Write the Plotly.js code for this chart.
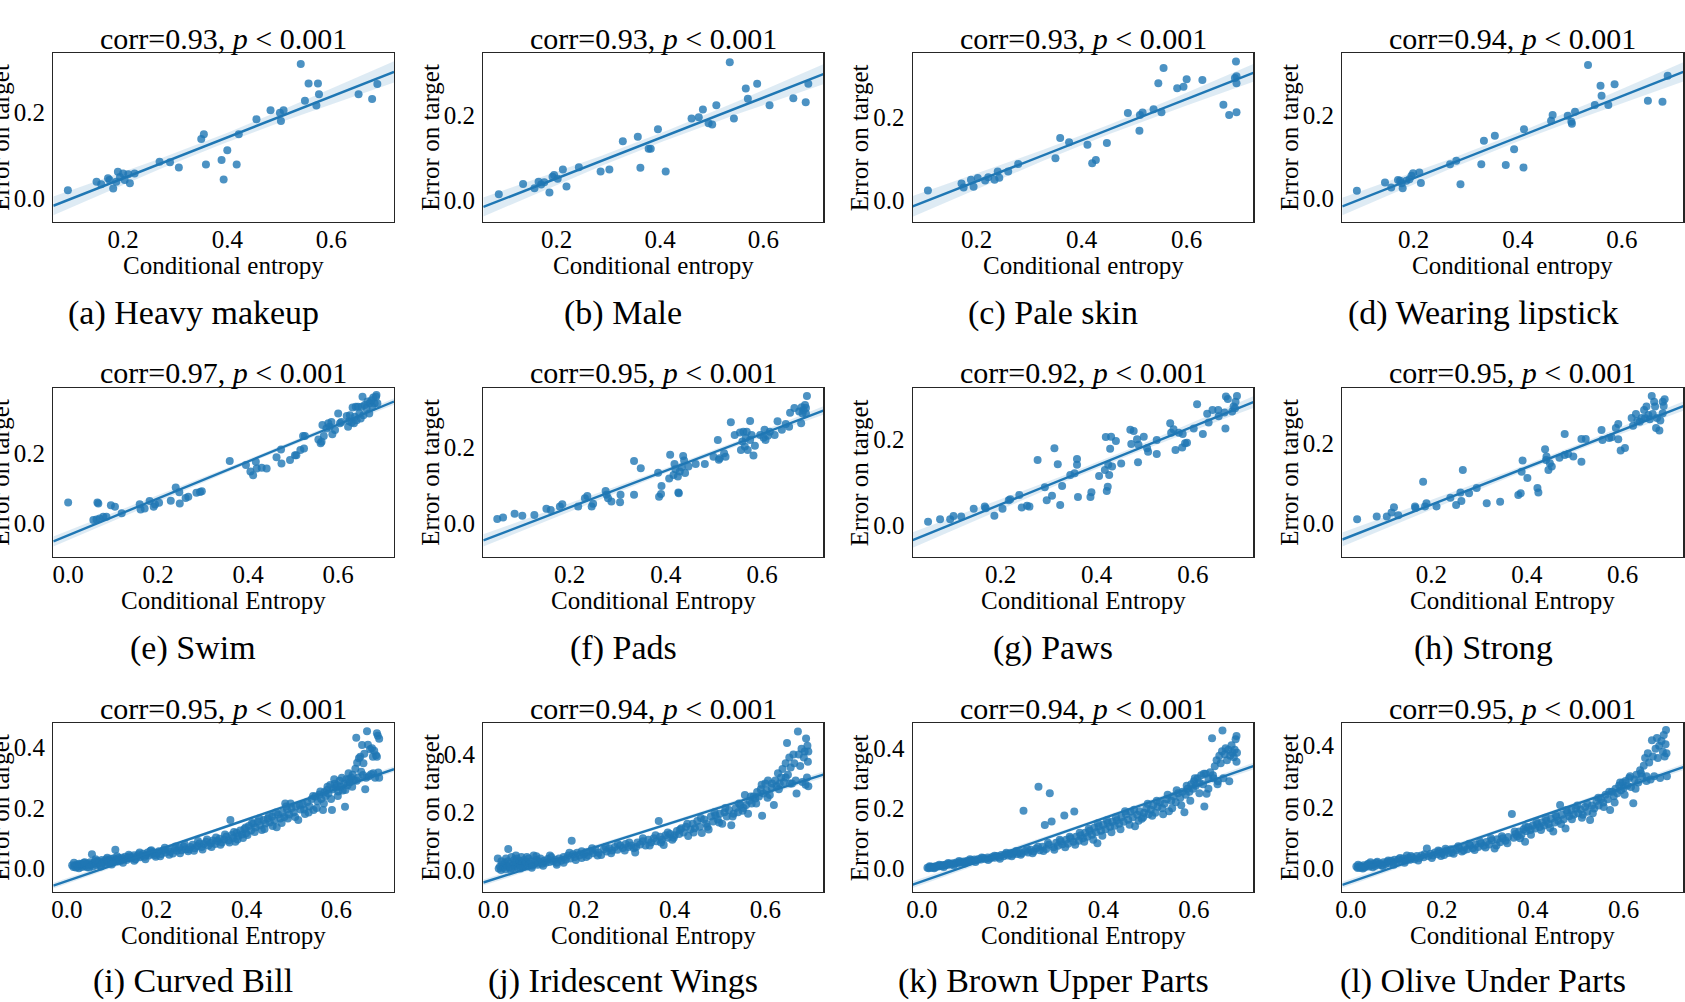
<!DOCTYPE html>
<html><head><meta charset="utf-8">
<script src="https://cdn.plot.ly/plotly-3.0.1.min.js"></script>
<style>html,body{margin:0;padding:0;background:#fff}#chart{width:1685px;height:1002px}</style>
</head><body><div id="chart"></div>
<script>
// ---------- data ----------
const corrValues = ["0.93","0.93","0.93","0.94","0.97","0.95","0.92","0.95","0.95","0.94","0.94","0.95"];
const captions = ["(a) Heavy makeup","(b) Male","(c) Pale skin","(d) Wearing lipstick",
  "(e) Swim","(f) Pads","(g) Paws","(h) Strong",
  "(i) Curved Bill","(j) Iridescent Wings","(k) Brown Upper Parts","(l) Olive Under Parts"];
const xTitles = ["Conditional entropy","Conditional entropy","Conditional entropy","Conditional entropy",
  "Conditional Entropy","Conditional Entropy","Conditional Entropy","Conditional Entropy",
  "Conditional Entropy","Conditional Entropy","Conditional Entropy","Conditional Entropy"];
const yTitle = "Error on target";

const heavyMakeup = [[0.094,0.019],[0.149,0.039],[0.158,0.033],[0.171,0.047],[0.174,0.043],[0.181,0.023],[0.187,0.039],[0.190,0.062],[0.194,0.050],[0.200,0.058],[0.203,0.043],[0.210,0.056],[0.213,0.035],[0.222,0.058],[0.270,0.085],[0.290,0.084],[0.307,0.072],[0.350,0.138],[0.355,0.149],[0.359,0.079],[0.389,0.089],[0.393,0.044],[0.400,0.112],[0.418,0.079],[0.422,0.149],[0.456,0.184],[0.483,0.205],[0.501,0.199],[0.503,0.180],[0.508,0.205],[0.541,0.312],[0.549,0.227],[0.556,0.267],[0.571,0.216],[0.574,0.267],[0.576,0.242],[0.652,0.242],[0.678,0.231],[0.688,0.266]];
const male = [[0.088,0.015],[0.135,0.039],[0.157,0.029],[0.165,0.044],[0.170,0.038],[0.176,0.043],[0.186,0.019],[0.192,0.056],[0.195,0.060],[0.202,0.051],[0.212,0.073],[0.219,0.033],[0.243,0.078],[0.285,0.068],[0.302,0.073],[0.328,0.139],[0.357,0.149],[0.362,0.077],[0.378,0.121],[0.382,0.121],[0.396,0.167],[0.411,0.068],[0.461,0.192],[0.475,0.195],[0.483,0.213],[0.494,0.181],[0.501,0.178],[0.509,0.223],[0.535,0.323],[0.543,0.192],[0.566,0.262],[0.570,0.238],[0.588,0.273],[0.612,0.223],[0.658,0.239],[0.682,0.230],[0.687,0.273]];
const paleSkin = [[0.107,0.023],[0.171,0.040],[0.175,0.030],[0.189,0.049],[0.194,0.032],[0.202,0.053],[0.216,0.047],[0.222,0.055],[0.234,0.049],[0.240,0.069],[0.243,0.054],[0.260,0.069],[0.279,0.087],[0.350,0.101],[0.359,0.150],[0.376,0.140],[0.411,0.134],[0.420,0.089],[0.427,0.097],[0.448,0.138],[0.488,0.211],[0.510,0.168],[0.511,0.206],[0.516,0.212],[0.537,0.220],[0.546,0.283],[0.552,0.213],[0.556,0.320],[0.582,0.271],[0.594,0.275],[0.600,0.293],[0.630,0.291],[0.670,0.231],[0.681,0.206],[0.692,0.296],[0.694,0.336],[0.695,0.300],[0.695,0.283],[0.695,0.213]];
const wearingLipstick = [[0.091,0.018],[0.145,0.038],[0.157,0.026],[0.170,0.044],[0.174,0.042],[0.177,0.036],[0.179,0.024],[0.186,0.042],[0.192,0.046],[0.196,0.054],[0.199,0.060],[0.211,0.062],[0.214,0.037],[0.270,0.082],[0.282,0.090],[0.290,0.034],[0.330,0.082],[0.335,0.138],[0.356,0.150],[0.377,0.080],[0.393,0.118],[0.411,0.074],[0.412,0.166],[0.464,0.186],[0.467,0.200],[0.496,0.198],[0.503,0.184],[0.504,0.179],[0.510,0.208],[0.535,0.320],[0.548,0.224],[0.559,0.270],[0.561,0.246],[0.574,0.224],[0.586,0.274],[0.650,0.234],[0.678,0.232],[0.688,0.294]];
const swim = [[0.000,0.060],[0.056,0.010],[0.063,0.011],[0.065,0.060],[0.067,0.057],[0.070,0.014],[0.078,0.019],[0.085,0.019],[0.095,0.052],[0.104,0.048],[0.119,0.029],[0.159,0.055],[0.161,0.040],[0.170,0.043],[0.181,0.064],[0.190,0.048],[0.193,0.054],[0.202,0.059],[0.228,0.065],[0.239,0.103],[0.247,0.089],[0.248,0.057],[0.261,0.073],[0.267,0.076],[0.285,0.088],[0.293,0.090],[0.297,0.092],[0.359,0.178],[0.395,0.167],[0.405,0.148],[0.411,0.138],[0.417,0.176],[0.419,0.157],[0.430,0.159],[0.441,0.157],[0.463,0.189],[0.473,0.211],[0.474,0.171],[0.493,0.181],[0.504,0.195],[0.507,0.195],[0.516,0.210],[0.522,0.250],[0.526,0.250],[0.524,0.214],[0.556,0.240],[0.561,0.229],[0.563,0.233],[0.565,0.281],[0.568,0.250],[0.574,0.271],[0.578,0.286],[0.581,0.276],[0.585,0.290],[0.587,0.255],[0.593,0.267],[0.600,0.314],[0.604,0.286],[0.607,0.290],[0.619,0.307],[0.622,0.276],[0.624,0.292],[0.626,0.309],[0.630,0.288],[0.632,0.331],[0.635,0.286],[0.637,0.305],[0.639,0.333],[0.641,0.295],[0.644,0.333],[0.647,0.314],[0.650,0.300],[0.652,0.333],[0.654,0.362],[0.656,0.309],[0.659,0.338],[0.663,0.329],[0.665,0.348],[0.669,0.314],[0.670,0.343],[0.674,0.352],[0.676,0.333],[0.678,0.360],[0.681,0.343],[0.684,0.362],[0.685,0.367],[0.687,0.343]];
const pads = [[0.050,0.011],[0.062,0.015],[0.086,0.025],[0.102,0.020],[0.127,0.022],[0.152,0.038],[0.161,0.035],[0.180,0.044],[0.185,0.050],[0.218,0.044],[0.232,0.066],[0.237,0.072],[0.246,0.044],[0.249,0.051],[0.275,0.085],[0.277,0.075],[0.280,0.066],[0.287,0.057],[0.305,0.055],[0.306,0.075],[0.334,0.164],[0.334,0.075],[0.348,0.145],[0.384,0.133],[0.386,0.070],[0.390,0.077],[0.391,0.098],[0.409,0.180],[0.407,0.118],[0.416,0.127],[0.418,0.156],[0.420,0.142],[0.425,0.123],[0.426,0.081],[0.427,0.079],[0.429,0.136],[0.433,0.147],[0.436,0.177],[0.438,0.165],[0.440,0.132],[0.447,0.149],[0.462,0.156],[0.481,0.156],[0.499,0.175],[0.508,0.219],[0.510,0.167],[0.512,0.171],[0.521,0.184],[0.524,0.175],[0.535,0.266],[0.543,0.232],[0.554,0.239],[0.556,0.193],[0.559,0.215],[0.561,0.241],[0.564,0.202],[0.566,0.224],[0.568,0.241],[0.570,0.193],[0.575,0.269],[0.575,0.219],[0.578,0.232],[0.582,0.178],[0.585,0.204],[0.596,0.232],[0.603,0.225],[0.605,0.246],[0.607,0.219],[0.612,0.230],[0.616,0.241],[0.626,0.232],[0.632,0.268],[0.641,0.246],[0.649,0.261],[0.656,0.254],[0.658,0.291],[0.667,0.303],[0.677,0.294],[0.681,0.263],[0.682,0.305],[0.684,0.289],[0.686,0.298],[0.689,0.311],[0.691,0.289],[0.693,0.335],[0.691,0.303]];
const paws = [[0.049,0.009],[0.074,0.015],[0.095,0.015],[0.102,0.022],[0.118,0.021],[0.144,0.039],[0.167,0.044],[0.169,0.040],[0.187,0.023],[0.204,0.039],[0.217,0.059],[0.220,0.061],[0.239,0.071],[0.244,0.042],[0.255,0.046],[0.260,0.044],[0.277,0.152],[0.292,0.089],[0.296,0.059],[0.307,0.069],[0.312,0.179],[0.319,0.142],[0.324,0.048],[0.328,0.092],[0.345,0.117],[0.354,0.121],[0.359,0.154],[0.359,0.141],[0.361,0.066],[0.387,0.066],[0.389,0.077],[0.405,0.115],[0.417,0.129],[0.419,0.205],[0.421,0.080],[0.423,0.090],[0.424,0.141],[0.426,0.117],[0.428,0.178],[0.430,0.206],[0.432,0.137],[0.440,0.196],[0.451,0.144],[0.470,0.222],[0.472,0.189],[0.477,0.219],[0.484,0.200],[0.486,0.147],[0.487,0.187],[0.498,0.206],[0.505,0.179],[0.507,0.171],[0.525,0.166],[0.525,0.198],[0.553,0.237],[0.555,0.215],[0.560,0.223],[0.564,0.175],[0.571,0.215],[0.578,0.181],[0.579,0.212],[0.584,0.191],[0.588,0.192],[0.602,0.225],[0.609,0.281],[0.621,0.212],[0.630,0.259],[0.633,0.239],[0.641,0.268],[0.653,0.268],[0.654,0.253],[0.666,0.262],[0.668,0.225],[0.669,0.299],[0.673,0.293],[0.682,0.264],[0.685,0.276],[0.689,0.287],[0.692,0.300],[0.688,0.272]];
const strong = [[0.045,0.010],[0.086,0.017],[0.107,0.017],[0.117,0.027],[0.122,0.040],[0.131,0.020],[0.166,0.042],[0.167,0.038],[0.183,0.104],[0.187,0.042],[0.190,0.050],[0.211,0.042],[0.240,0.064],[0.252,0.046],[0.261,0.077],[0.263,0.056],[0.266,0.133],[0.279,0.075],[0.295,0.088],[0.316,0.050],[0.344,0.054],[0.382,0.071],[0.387,0.075],[0.391,0.157],[0.389,0.129],[0.401,0.113],[0.422,0.088],[0.424,0.077],[0.438,0.185],[0.440,0.158],[0.441,0.167],[0.445,0.133],[0.448,0.150],[0.452,0.142],[0.479,0.223],[0.468,0.164],[0.479,0.171],[0.486,0.173],[0.497,0.167],[0.514,0.154],[0.514,0.211],[0.523,0.211],[0.556,0.233],[0.558,0.208],[0.572,0.213],[0.577,0.215],[0.586,0.238],[0.591,0.248],[0.591,0.210],[0.596,0.182],[0.605,0.188],[0.619,0.263],[0.622,0.244],[0.628,0.273],[0.631,0.256],[0.636,0.254],[0.640,0.263],[0.645,0.283],[0.647,0.263],[0.650,0.292],[0.654,0.271],[0.657,0.260],[0.661,0.318],[0.663,0.273],[0.666,0.304],[0.668,0.292],[0.670,0.238],[0.672,0.263],[0.677,0.232],[0.679,0.257],[0.684,0.304],[0.686,0.293],[0.688,0.310],[0.684,0.275]];
const curvedBillMain = [[0.012,0.010],[0.015,0.004],[0.018,0.008],[0.020,0.002],[0.022,0.012],[0.025,0.006],[0.027,0.000],[0.030,0.009],[0.032,0.014],[0.034,0.004],[0.036,0.010],[0.038,0.018],[0.040,0.007],[0.042,0.013],[0.045,0.003],[0.047,0.016],[0.050,0.010],[0.052,0.020],[0.055,0.012],[0.056,0.046],[0.058,0.006],[0.060,0.016],[0.063,0.022],[0.066,0.011],[0.068,0.025],[0.070,0.015],[0.073,0.020],[0.075,0.009],[0.078,0.027],[0.080,0.018],[0.083,0.023],[0.085,0.014],[0.088,0.030],[0.090,0.021],[0.093,0.026],[0.095,0.017],[0.098,0.031],[0.100,0.024],[0.103,0.020],[0.105,0.033],[0.108,0.061],[0.110,0.027],[0.113,0.022],[0.115,0.034],[0.118,0.029],[0.120,0.025],[0.123,0.035],[0.126,0.030],[0.130,0.038],[0.133,0.027],[0.136,0.034],[0.140,0.040],[0.143,0.032],[0.146,0.036],[0.150,0.043],[0.153,0.030],[0.156,0.039],[0.160,0.046],[0.163,0.036],[0.166,0.041],[0.170,0.048],[0.173,0.038],[0.176,0.044],[0.180,0.052],[0.183,0.042],[0.186,0.057],[0.190,0.047],[0.193,0.053],[0.196,0.044],[0.200,0.050],[0.205,0.056],[0.210,0.047],[0.215,0.060],[0.220,0.052],[0.225,0.062],[0.230,0.055],[0.236,0.049],[0.240,0.065],[0.245,0.058],[0.250,0.068],[0.255,0.060],[0.260,0.072],[0.265,0.063],[0.270,0.056],[0.275,0.070],[0.280,0.078],[0.285,0.066],[0.290,0.074],[0.295,0.082],[0.300,0.070],[0.305,0.080],[0.310,0.088],[0.315,0.075],[0.320,0.084],[0.325,0.092],[0.330,0.080],[0.335,0.090],[0.340,0.098],[0.345,0.085],[0.350,0.095],[0.355,0.105],[0.360,0.092],[0.364,0.160],[0.367,0.110],[0.370,0.100],[0.375,0.088],[0.378,0.118],[0.382,0.108],[0.386,0.125],[0.390,0.112],[0.395,0.130],[0.399,0.116],[0.405,0.140],[0.410,0.125],[0.415,0.148],[0.420,0.135],[0.425,0.155],[0.430,0.142],[0.434,0.127],[0.438,0.160],[0.442,0.148],[0.447,0.165],[0.452,0.152],[0.457,0.172],[0.462,0.158],[0.467,0.136],[0.470,0.178],[0.475,0.165],[0.480,0.185],[0.484,0.170],[0.486,0.215],[0.490,0.195],[0.495,0.178],[0.500,0.200],[0.505,0.185],[0.510,0.205],[0.515,0.160],[0.520,0.195],[0.525,0.212],[0.530,0.180],[0.535,0.220],[0.540,0.205],[0.545,0.230],[0.549,0.193],[0.553,0.238],[0.558,0.222],[0.562,0.245],[0.566,0.230],[0.570,0.193],[0.573,0.252],[0.576,0.240],[0.579,0.260],[0.582,0.248],[0.586,0.276],[0.590,0.193],[0.592,0.262],[0.596,0.280],[0.599,0.268],[0.601,0.276],[0.604,0.255],[0.607,0.290],[0.610,0.270],[0.614,0.258],[0.617,0.280],[0.619,0.204],[0.622,0.295],[0.625,0.275],[0.627,0.315],[0.630,0.285],[0.633,0.300],[0.636,0.310],[0.639,0.292],[0.642,0.330],[0.644,0.433],[0.646,0.350],[0.648,0.300],[0.650,0.365],[0.653,0.370],[0.655,0.320],[0.657,0.409],[0.659,0.309],[0.660,0.348],[0.662,0.380],[0.664,0.262],[0.666,0.300],[0.668,0.455],[0.670,0.410],[0.672,0.305],[0.675,0.395],[0.677,0.312],[0.679,0.398],[0.681,0.370],[0.682,0.315],[0.684,0.390],[0.686,0.300],[0.688,0.375],[0.690,0.448],[0.690,0.370],[0.692,0.440],[0.693,0.318],[0.695,0.430],[0.695,0.300]];
const curvedBillExtra = [[0.016,0.018],[0.028,0.015],[0.040,0.020],[0.050,0.002],[0.064,0.030],[0.076,0.006],[0.090,0.035],[0.100,0.012],[0.112,0.040],[0.125,0.018],[0.138,0.045],[0.150,0.025],[0.162,0.052],[0.175,0.030],[0.188,0.060],[0.198,0.038],[0.208,0.040],[0.218,0.068],[0.228,0.045],[0.242,0.072],[0.252,0.050],[0.262,0.080],[0.272,0.062],[0.283,0.058],[0.292,0.090],[0.302,0.062],[0.312,0.095],[0.322,0.070],[0.332,0.102],[0.342,0.078],[0.352,0.112],[0.362,0.085],[0.372,0.120],[0.380,0.095],[0.392,0.100],[0.398,0.135],[0.402,0.110],[0.412,0.150],[0.418,0.120],[0.428,0.165],[0.440,0.130],[0.450,0.175],[0.458,0.140],[0.465,0.185],[0.478,0.150],[0.488,0.205],[0.492,0.165],[0.498,0.215],[0.508,0.170],[0.518,0.210],[0.528,0.195],[0.538,0.185],[0.548,0.240],[0.556,0.200],[0.564,0.255],[0.572,0.215],[0.580,0.270],[0.588,0.230],[0.595,0.295],[0.603,0.240],[0.612,0.300],[0.620,0.260],[0.628,0.295],[0.635,0.270],[0.645,0.290]];
const iridescentWingsMain = [[0.010,0.040],[0.012,0.005],[0.015,0.012],[0.017,0.000],[0.020,0.018],[0.022,0.008],[0.025,0.025],[0.027,0.003],[0.030,0.015],[0.032,0.030],[0.033,0.073],[0.035,0.010],[0.037,0.022],[0.040,0.045],[0.042,0.005],[0.044,0.018],[0.046,0.035],[0.048,0.012],[0.050,0.028],[0.052,0.040],[0.054,0.008],[0.056,0.022],[0.058,0.032],[0.060,0.015],[0.062,0.045],[0.064,0.025],[0.066,0.010],[0.068,0.035],[0.070,0.020],[0.072,0.028],[0.075,0.012],[0.078,0.040],[0.080,0.022],[0.083,0.030],[0.086,0.015],[0.089,0.050],[0.092,0.025],[0.095,0.035],[0.098,0.018],[0.100,0.030],[0.104,0.040],[0.108,0.022],[0.112,0.032],[0.116,0.025],[0.120,0.038],[0.124,0.028],[0.128,0.045],[0.132,0.030],[0.136,0.036],[0.140,0.025],[0.145,0.040],[0.150,0.032],[0.155,0.045],[0.160,0.036],[0.165,0.050],[0.170,0.040],[0.173,0.101],[0.176,0.055],[0.180,0.045],[0.185,0.060],[0.190,0.050],[0.195,0.042],[0.200,0.055],[0.205,0.062],[0.210,0.050],[0.215,0.066],[0.220,0.058],[0.226,0.070],[0.232,0.060],[0.238,0.052],[0.244,0.072],[0.250,0.064],[0.256,0.075],[0.262,0.068],[0.268,0.080],[0.274,0.070],[0.280,0.085],[0.286,0.076],[0.292,0.090],[0.298,0.080],[0.304,0.085],[0.310,0.075],[0.313,0.061],[0.318,0.095],[0.324,0.088],[0.330,0.100],[0.336,0.085],[0.342,0.105],[0.348,0.095],[0.354,0.110],[0.360,0.100],[0.365,0.170],[0.368,0.115],[0.372,0.105],[0.376,0.087],[0.380,0.120],[0.385,0.112],[0.390,0.125],[0.395,0.105],[0.400,0.120],[0.405,0.135],[0.410,0.125],[0.415,0.145],[0.420,0.130],[0.425,0.150],[0.430,0.118],[0.435,0.140],[0.440,0.160],[0.445,0.145],[0.450,0.170],[0.455,0.150],[0.460,0.128],[0.465,0.175],[0.470,0.160],[0.475,0.140],[0.480,0.185],[0.485,0.168],[0.490,0.190],[0.495,0.175],[0.500,0.195],[0.505,0.160],[0.510,0.200],[0.515,0.185],[0.520,0.208],[0.525,0.155],[0.530,0.195],[0.535,0.215],[0.540,0.200],[0.545,0.225],[0.550,0.205],[0.555,0.260],[0.558,0.225],[0.562,0.195],[0.565,0.240],[0.570,0.230],[0.574,0.255],[0.578,0.248],[0.582,0.270],[0.586,0.255],[0.590,0.280],[0.593,0.188],[0.596,0.265],[0.600,0.300],[0.603,0.275],[0.606,0.310],[0.610,0.260],[0.614,0.285],[0.619,0.225],[0.622,0.310],[0.625,0.290],[0.628,0.335],[0.632,0.300],[0.635,0.320],[0.638,0.350],[0.641,0.305],[0.645,0.370],[0.648,0.440],[0.650,0.330],[0.653,0.390],[0.656,0.355],[0.659,0.300],[0.662,0.400],[0.664,0.370],[0.667,0.310],[0.669,0.265],[0.672,0.480],[0.674,0.400],[0.677,0.360],[0.680,0.420],[0.682,0.305],[0.685,0.390],[0.687,0.410],[0.689,0.295],[0.690,0.455],[0.692,0.320],[0.693,0.430],[0.694,0.375],[0.695,0.410],[0.695,0.290]];
const iridescentWingsExtra = [[0.018,0.030],[0.028,0.040],[0.038,0.002],[0.050,0.050],[0.060,0.005],[0.074,0.045],[0.085,0.008],[0.095,0.048],[0.110,0.015],[0.125,0.050],[0.140,0.018],[0.155,0.025],[0.168,0.060],[0.182,0.035],[0.195,0.065],[0.205,0.045],[0.218,0.075],[0.230,0.050],[0.248,0.080],[0.260,0.058],[0.275,0.090],[0.290,0.068],[0.300,0.095],[0.315,0.080],[0.330,0.110],[0.345,0.085],[0.358,0.120],[0.370,0.095],[0.385,0.130],[0.398,0.112],[0.412,0.140],[0.428,0.160],[0.442,0.130],[0.458,0.180],[0.472,0.150],[0.488,0.200],[0.498,0.165],[0.512,0.215],[0.528,0.185],[0.542,0.230],[0.552,0.215],[0.568,0.255],[0.580,0.230],[0.592,0.295],[0.605,0.250],[0.615,0.300],[0.630,0.280],[0.645,0.320],[0.655,0.300]];
const brownUpperPartsMain = [[0.012,0.002],[0.015,0.000],[0.018,0.004],[0.020,0.002],[0.022,0.005],[0.025,0.003],[0.028,0.006],[0.030,0.004],[0.033,0.008],[0.036,0.006],[0.040,0.009],[0.043,0.007],[0.046,0.011],[0.050,0.009],[0.053,0.013],[0.056,0.011],[0.060,0.015],[0.064,0.013],[0.068,0.017],[0.072,0.015],[0.076,0.019],[0.080,0.017],[0.084,0.021],[0.088,0.019],[0.092,0.023],[0.096,0.021],[0.100,0.025],[0.104,0.023],[0.108,0.027],[0.112,0.025],[0.116,0.029],[0.120,0.027],[0.125,0.031],[0.130,0.029],[0.135,0.034],[0.140,0.031],[0.145,0.036],[0.150,0.033],[0.155,0.038],[0.160,0.035],[0.165,0.041],[0.170,0.038],[0.175,0.044],[0.180,0.040],[0.185,0.047],[0.190,0.043],[0.195,0.050],[0.200,0.046],[0.205,0.052],[0.210,0.048],[0.215,0.055],[0.220,0.050],[0.224,0.192],[0.228,0.058],[0.234,0.053],[0.240,0.062],[0.246,0.056],[0.252,0.066],[0.257,0.272],[0.260,0.060],[0.266,0.072],[0.271,0.144],[0.274,0.064],[0.280,0.078],[0.282,0.250],[0.286,0.156],[0.290,0.070],[0.296,0.085],[0.300,0.075],[0.306,0.090],[0.310,0.080],[0.314,0.176],[0.318,0.095],[0.322,0.082],[0.328,0.100],[0.334,0.088],[0.336,0.189],[0.340,0.105],[0.346,0.092],[0.350,0.110],[0.355,0.100],[0.360,0.118],[0.365,0.105],[0.370,0.125],[0.375,0.112],[0.380,0.135],[0.384,0.120],[0.387,0.083],[0.390,0.140],[0.395,0.125],[0.400,0.145],[0.405,0.130],[0.410,0.152],[0.415,0.138],[0.420,0.155],[0.425,0.142],[0.430,0.160],[0.435,0.148],[0.440,0.170],[0.445,0.155],[0.450,0.180],[0.455,0.162],[0.460,0.188],[0.465,0.170],[0.470,0.140],[0.475,0.178],[0.480,0.190],[0.485,0.165],[0.490,0.185],[0.495,0.200],[0.500,0.180],[0.505,0.195],[0.510,0.210],[0.515,0.185],[0.520,0.205],[0.525,0.220],[0.530,0.200],[0.535,0.215],[0.540,0.230],[0.545,0.190],[0.550,0.225],[0.555,0.240],[0.560,0.220],[0.565,0.250],[0.570,0.235],[0.575,0.255],[0.579,0.187],[0.582,0.245],[0.586,0.265],[0.590,0.255],[0.594,0.280],[0.598,0.265],[0.600,0.290],[0.604,0.275],[0.608,0.300],[0.612,0.285],[0.616,0.310],[0.620,0.280],[0.623,0.206],[0.626,0.315],[0.628,0.248],[0.632,0.300],[0.636,0.320],[0.640,0.433],[0.643,0.300],[0.646,0.340],[0.650,0.360],[0.653,0.290],[0.656,0.375],[0.659,0.350],[0.662,0.390],[0.663,0.459],[0.665,0.300],[0.668,0.380],[0.670,0.400],[0.673,0.360],[0.676,0.395],[0.678,0.290],[0.680,0.375],[0.683,0.410],[0.685,0.385],[0.688,0.370],[0.690,0.395],[0.692,0.430],[0.694,0.441],[0.694,0.355],[0.695,0.385]];
const brownUpperPartsExtra = [[0.017,0.007],[0.027,0.000],[0.038,0.012],[0.048,0.004],[0.058,0.018],[0.070,0.010],[0.082,0.024],[0.094,0.016],[0.106,0.030],[0.118,0.021],[0.132,0.036],[0.146,0.028],[0.160,0.042],[0.172,0.032],[0.186,0.052],[0.198,0.040],[0.208,0.058],[0.218,0.045],[0.232,0.065],[0.244,0.050],[0.256,0.072],[0.268,0.058],[0.278,0.085],[0.292,0.062],[0.304,0.095],[0.316,0.070],[0.326,0.105],[0.338,0.078],[0.348,0.118],[0.358,0.088],[0.368,0.132],[0.378,0.095],[0.388,0.150],[0.398,0.108],[0.408,0.160],[0.418,0.120],[0.428,0.170],[0.438,0.130],[0.448,0.190],[0.458,0.145],[0.468,0.195],[0.478,0.158],[0.488,0.170],[0.498,0.215],[0.508,0.175],[0.518,0.225],[0.532,0.180],[0.542,0.245],[0.552,0.200],[0.562,0.260],[0.572,0.210],[0.584,0.275],[0.592,0.225],[0.602,0.300],[0.612,0.250],[0.622,0.315],[0.632,0.265],[0.642,0.310],[0.652,0.280]];
const oliveUnderPartsMain = [[0.012,0.006],[0.015,0.001],[0.018,0.004],[0.020,0.008],[0.022,0.002],[0.025,0.005],[0.028,0.010],[0.030,0.003],[0.033,0.007],[0.036,0.012],[0.040,0.006],[0.043,0.020],[0.046,0.010],[0.050,0.015],[0.053,0.008],[0.056,0.018],[0.060,0.012],[0.064,0.016],[0.068,0.010],[0.072,0.020],[0.076,0.014],[0.080,0.022],[0.084,0.017],[0.088,0.025],[0.092,0.019],[0.096,0.028],[0.100,0.022],[0.105,0.030],[0.110,0.024],[0.115,0.032],[0.120,0.026],[0.123,0.042],[0.126,0.034],[0.130,0.028],[0.135,0.036],[0.140,0.030],[0.145,0.040],[0.150,0.034],[0.155,0.042],[0.160,0.036],[0.167,0.065],[0.170,0.040],[0.175,0.048],[0.180,0.042],[0.185,0.052],[0.190,0.046],[0.195,0.056],[0.200,0.050],[0.205,0.044],[0.210,0.058],[0.215,0.050],[0.220,0.062],[0.226,0.048],[0.232,0.060],[0.238,0.066],[0.244,0.055],[0.250,0.070],[0.256,0.062],[0.262,0.075],[0.268,0.066],[0.274,0.078],[0.280,0.070],[0.286,0.082],[0.292,0.074],[0.298,0.086],[0.304,0.078],[0.310,0.092],[0.316,0.065],[0.322,0.095],[0.328,0.085],[0.334,0.098],[0.340,0.090],[0.346,0.102],[0.354,0.177],[0.358,0.100],[0.362,0.112],[0.366,0.105],[0.370,0.120],[0.375,0.110],[0.380,0.128],[0.383,0.087],[0.386,0.122],[0.390,0.135],[0.395,0.125],[0.400,0.140],[0.405,0.130],[0.410,0.145],[0.415,0.135],[0.420,0.150],[0.425,0.140],[0.430,0.155],[0.435,0.145],[0.440,0.162],[0.445,0.120],[0.448,0.150],[0.452,0.168],[0.456,0.155],[0.460,0.207],[0.464,0.175],[0.468,0.160],[0.472,0.130],[0.476,0.182],[0.480,0.170],[0.485,0.190],[0.490,0.175],[0.495,0.195],[0.500,0.180],[0.505,0.192],[0.510,0.175],[0.515,0.200],[0.520,0.185],[0.526,0.158],[0.530,0.205],[0.535,0.195],[0.540,0.220],[0.545,0.205],[0.550,0.225],[0.555,0.215],[0.560,0.240],[0.565,0.225],[0.570,0.190],[0.574,0.250],[0.578,0.235],[0.582,0.260],[0.586,0.245],[0.590,0.270],[0.594,0.255],[0.598,0.280],[0.600,0.262],[0.604,0.285],[0.608,0.270],[0.612,0.295],[0.616,0.265],[0.621,0.212],[0.624,0.290],[0.628,0.305],[0.632,0.280],[0.636,0.320],[0.640,0.300],[0.644,0.335],[0.647,0.360],[0.650,0.300],[0.653,0.375],[0.656,0.345],[0.659,0.290],[0.662,0.418],[0.664,0.365],[0.667,0.300],[0.670,0.390],[0.673,0.425],[0.675,0.360],[0.678,0.400],[0.680,0.295],[0.683,0.415],[0.686,0.380],[0.688,0.435],[0.690,0.365],[0.692,0.405],[0.693,0.451],[0.694,0.375],[0.695,0.300]];
const oliveUnderPartsExtra = [[0.016,0.012],[0.026,0.000],[0.038,0.015],[0.048,0.004],[0.058,0.022],[0.070,0.008],[0.082,0.026],[0.094,0.012],[0.108,0.034],[0.118,0.018],[0.132,0.040],[0.148,0.026],[0.162,0.046],[0.178,0.034],[0.192,0.058],[0.198,0.040],[0.208,0.064],[0.222,0.052],[0.236,0.072],[0.248,0.058],[0.260,0.080],[0.272,0.060],[0.284,0.088],[0.296,0.068],[0.308,0.098],[0.320,0.075],[0.332,0.105],[0.344,0.082],[0.360,0.120],[0.372,0.098],[0.384,0.135],[0.396,0.110],[0.408,0.152],[0.418,0.125],[0.428,0.165],[0.438,0.132],[0.450,0.175],[0.462,0.145],[0.474,0.190],[0.486,0.160],[0.498,0.205],[0.508,0.165],[0.520,0.210],[0.532,0.180],[0.544,0.230],[0.556,0.200],[0.568,0.250],[0.580,0.215],[0.592,0.280],[0.602,0.240],[0.614,0.300],[0.626,0.260],[0.638,0.310],[0.650,0.285]];

const panelData = [heavyMakeup, male, paleSkin, wearingLipstick, swim, pads, paws, strong,
  curvedBillMain.concat(curvedBillExtra), iridescentWingsMain.concat(iridescentWingsExtra),
  brownUpperPartsMain.concat(brownUpperPartsExtra), oliveUnderPartsMain.concat(oliveUnderPartsExtra)];

// ---------- layout geometry (pixels of the 1685x1002 canvas) ----------
const W = 1685, H = 1002;
const colLeft = [53.3, 483.3, 912.7, 1342.3];
const colRight = [394, 823.3, 1253.3, 1683.3];
const rowTop = [53.3, 388.3, 723.3];
const rowBottom = [221.7, 556.7, 891.7];
const xRanges = [[0.066,0.72],[0.058,0.716],[0.078,0.727],[0.063,0.718],
  [-0.033,0.724],[0.021,0.727],[0.017,0.726],[0.014,0.727],
  [-0.03,0.728],[-0.022,0.728],[-0.0205,0.731],[-0.019,0.731]];
const yRanges = [[-0.054,0.337],[-0.049,0.344],[-0.053,0.356],[-0.056,0.348],
  [-0.095,0.386],[-0.088,0.355],[-0.072,0.318],[-0.0835,0.3375],
  [-0.078,0.481],[-0.075,0.508],[-0.078,0.483],[-0.076,0.473]];
const captionX = [193.4, 623.3, 1053.2, 1483];
const captionY = [312.7, 648, 981];
const titleY = [38, 373, 708];
const xTitleY = [265, 600, 935];

const FONT = "Liberation Serif, Times New Roman, serif";
const BLUE = "#1f77b4";
const px2x = p => p / W;
const px2y = p => 1 - p / H;

const traces = [];
const layout = {
  width: W, height: H, margin: {l:0, r:0, t:0, b:0},
  paper_bgcolor: "#fff", plot_bgcolor: "#fff", showlegend: false,
  font: {family: FONT, color: "#000"}, annotations: []
};

function fit(pts) {
  const n = pts.length;
  let sx = 0, sy = 0;
  pts.forEach(p => { sx += p[0]; sy += p[1]; });
  const mx = sx / n, my = sy / n;
  let sxx = 0, sxy = 0;
  pts.forEach(p => { sxx += (p[0]-mx)**2; sxy += (p[0]-mx)*(p[1]-my); });
  const b = sxy / sxx, a = my - b * mx;
  let sse = 0;
  pts.forEach(p => { sse += (p[1] - a - b*p[0])**2; });
  const s = Math.sqrt(sse / (n - 2));
  return {a, b, s, n, mx, sxx};
}

panelData.forEach((pts, i) => {
  const r = Math.floor(i / 4), c = i % 4;
  const k = i + 1;
  const xa = "x" + (k === 1 ? "" : k), ya = "y" + (k === 1 ? "" : k);
  const xkey = "xaxis" + (k === 1 ? "" : k), ykey = "yaxis" + (k === 1 ? "" : k);
  const xr = xRanges[i], yr = yRanges[i];
  const f = fit(pts);
  const N = 60;
  const gx = [], lo = [], hi = [], mid = [];
  for (let j = 0; j <= N; j++) {
    const x = xr[0] + (xr[1]-xr[0]) * j / N;
    const yh = f.a + f.b * x;
    const se = f.s * Math.sqrt(1/f.n + (x - f.mx)**2 / f.sxx);
    gx.push(x); mid.push(yh); lo.push(yh - 1.96*se); hi.push(yh + 1.96*se);
  }
  traces.push({x: gx, y: lo, xaxis: xa, yaxis: ya, mode: "lines", line: {width: 0, color: BLUE}, hoverinfo: "skip"});
  traces.push({x: gx, y: hi, xaxis: xa, yaxis: ya, mode: "lines", line: {width: 0, color: BLUE}, fill: "tonexty", fillcolor: "rgba(31,119,180,0.15)", hoverinfo: "skip"});
  traces.push({x: pts.map(p => p[0]), y: pts.map(p => p[1]), xaxis: xa, yaxis: ya, mode: "markers",
    marker: {size: 8, color: "rgba(31,119,180,0.8)", line: {width: 0}}});
  traces.push({x: gx, y: mid, xaxis: xa, yaxis: ya, mode: "lines", line: {width: 2.4, color: BLUE}, hoverinfo: "skip"});

  const common = {showline: true, mirror: true, linecolor: "#262626", linewidth: 1.2, ticks: "",
    showgrid: false, zeroline: false, tickfont: {family: FONT, size: 25, color: "#000"},
    tickformat: ".1f", dtick: 0.2, tick0: 0, fixedrange: true};
  layout[xkey] = Object.assign({}, common, {domain: [px2x(colLeft[c]), px2x(colRight[c])], range: xr, anchor: ya, ticklabelstandoff: -5});
  layout[ykey] = Object.assign({}, common, {domain: [px2y(rowBottom[r]), px2y(rowTop[r])], range: yr, anchor: xa, ticklabelstandoff: 2});

  const cx = (colLeft[c] + colRight[c]) / 2;
  layout.annotations.push({xref: "paper", yref: "paper", x: px2x(cx), y: px2y(titleY[r]), xanchor: "center", yanchor: "middle",
    text: "corr=" + corrValues[i] + ", <i>p</i> &lt; 0.001", showarrow: false, font: {family: FONT, size: 30, color: "#000"}});
  layout.annotations.push({xref: "paper", yref: "paper", x: px2x(cx), y: px2y(xTitleY[r]), xanchor: "center", yanchor: "middle",
    text: xTitles[i], showarrow: false, font: {family: FONT, size: 25, color: "#000"}});
  layout.annotations.push({xref: "paper", yref: "paper", x: px2x(colLeft[c] - 53), y: px2y((rowTop[r] + rowBottom[r]) / 2),
    xanchor: "center", yanchor: "middle", textangle: -90,
    text: yTitle, showarrow: false, font: {family: FONT, size: 25, color: "#000"}});
  layout.annotations.push({xref: "paper", yref: "paper", x: px2x(captionX[c]), y: px2y(captionY[r]), xanchor: "center", yanchor: "middle",
    text: captions[i], showarrow: false, font: {family: FONT, size: 34, color: "#000"}});
});

Plotly.newPlot("chart", traces, layout, {staticPlot: true, displayModeBar: false});
</script>
</body></html>
